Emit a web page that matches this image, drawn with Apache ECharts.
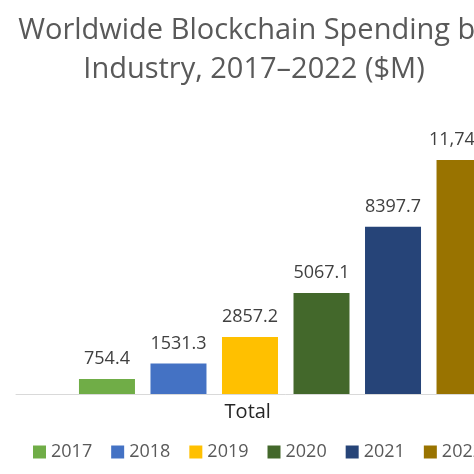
<!DOCTYPE html>
<html>
<head>
<meta charset="utf-8">
<script src="https://cdn.jsdelivr.net/npm/echarts@6/dist/echarts.min.js"></script>
<style>
html, body { margin: 0; padding: 0; width: 474px; height: 474px; overflow: hidden; background: #fff; }
#chart { width: 560px; height: 474px; }
</style>
</head>
<body>
<div id="chart"></div>
<script>
const categories = ['Total'];
const seriesNames = ['2017', '2018', '2019', '2020', '2021', '2022'];
const seriesValues = [754.4, 1531.3, 2857.2, 5067.1, 8397.7, 11746.0];
const seriesColors = ['#70AD47', '#4472C4', '#FFC000', '#43682B', '#264478', '#997300'];
const titleText = 'Worldwide Blockchain Spending by\nIndustry, 2017\u20132022 ($M)';

const FONT = '"Open Sans", sans-serif';
const chart = echarts.init(document.getElementById('chart'), null, { renderer: 'canvas' });

function fmt(v) {
  if (v >= 10000) {
    return v.toLocaleString('en-US', { minimumFractionDigits: 1, maximumFractionDigits: 1 });
  }
  return v.toFixed(1);
}

const series = seriesNames.map((name, i) => ({
  name: name,
  type: 'bar',
  data: [seriesValues[i]],
  barWidth: 56,
  barGap: '27.7%',
  itemStyle: { color: seriesColors[i] },
  label: {
    show: true,
    position: 'top',
    distance: 11,
    color: '#404040',
    fontFamily: FONT,
    fontSize: 18,
    formatter: p => fmt(p.value)
  },
  emphasis: { disabled: true }
}));

chart.setOption({
  animation: false,
  title: {
    text: titleText,
    left: 254,
    textAlign: 'center',
    top: 11,
    padding: 0,
    textStyle: {
      fontFamily: FONT,
      fontSize: 29,
      fontWeight: 'normal',
      color: '#595959',
      lineHeight: 39
    }
  },
  legend: {
    data: seriesNames,
    left: 28,
    top: 438,
    itemWidth: 13,
    itemHeight: 13,
    itemGap: 19,
    icon: 'rect',
    textStyle: { fontFamily: FONT, fontSize: 18, color: '#595959' }
  },
  grid: { left: 16, right: 4.5, top: 155, bottom: 80, containLabel: false },
  xAxis: {
    type: 'category',
    data: categories,
    axisLine: { show: true, lineStyle: { color: '#D9D9D9', width: 1 } },
    axisTick: { show: false },
    axisLabel: {
      margin: 8,
      fontFamily: FONT,
      fontSize: 20,
      color: '#262626',
      padding: [0, 76, 0, 0]
    }
  },
  yAxis: {
    type: 'value',
    min: 0,
    max: 12000,
    show: false,
    splitLine: { show: false }
  },
  series: series
});
</script>
</body>
</html>
